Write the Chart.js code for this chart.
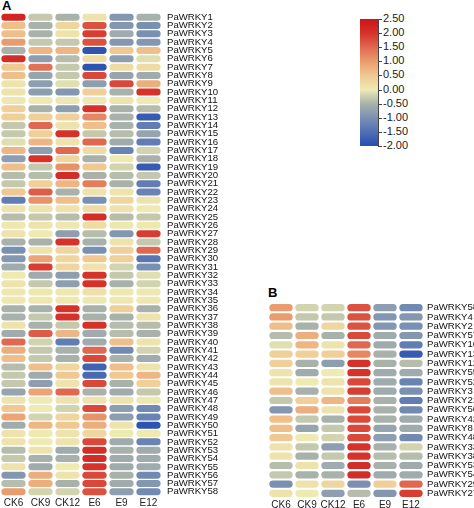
<!DOCTYPE html>
<html><head><meta charset="utf-8">
<script src="https://cdn.jsdelivr.net/npm/chart.js@4"></script>
<style>
body{margin:0;background:#fff;font-family:"Liberation Sans",Arial,sans-serif;}
#wrap{position:relative;width:474px;height:508px;overflow:hidden;}
canvas{position:absolute;}
.lbl{position:absolute;font-weight:bold;font-size:13px;color:#000;}
.ct{position:absolute;font-size:11px;color:#222;left:383px;}
.tk{position:absolute;left:378px;width:4px;height:1px;background:#444;}
</style></head><body>
<div id="wrap">
<div class="lbl" style="left:2px;top:-2px">A</div>
<div class="lbl" style="left:268px;top:285px">B</div>
<div id="cb" style="position:absolute;left:360px;top:19px;width:18px;height:127px;"></div>
<div style="position:absolute;left:378px;top:19px;width:1px;height:127px;background:#444"></div>
<canvas id="ca" style="left:0;top:0"></canvas>
<canvas id="cbB" style="left:268px;top:290px"></canvas>
</div>
<script>
const columns=["CK6","CK9","CK12","E6","E9","E12"];
const genesA=Array.from({length:58},(_,i)=>"PaWRKY"+(i+1));
const CK6=[2.2,0.6,0.6,1.0,-0.5,2.1,0.5,0.6,0.1,0.1,0.05,0.4,0.4,-0.3,-0.3,-0.1,0.7,-0.8,0.6,-0.4,-0.3,0.5,-1.3,0.1,-0.4,0.05,0.1,-0.5,-1.0,-0.9,-0.6,0,0.1,0.05,0.05,-0.5,-0.5,0.1,-0.6,1.5,0.8,0.6,-0.4,-0.3,-0.3,-0.7,0.1,0.5,0.9,-0.6,0.1,0.1,-0.4,-0.3,0.1,-0.9,-0.4,1.0];
const CK9=[-0.3,-0.5,-0.5,-0.3,0.7,-0.8,1.4,-0.7,-0.8,-0.8,0,-0.5,0.4,1.5,0.4,0.7,-0.8,2.0,-0.3,-0.4,0.4,1.6,1.1,0.1,-0.3,0.1,0,-0.5,0.1,0.9,1.9,-0.6,-0.3,0.05,0.05,-0.5,-0.3,-0.5,1.6,-0.2,-0.3,-0.3,0.6,-0.6,-0.8,0.9,0,0,-0.2,0.7,0,0,0.1,-0.5,-0.6,0.8,0.8,-0.2];
const CK12=[-0.5,0.3,0.1,-0.3,0.7,-0.4,-0.3,-0.3,-0.1,-0.9,0.05,-0.8,0.4,0.1,2.0,0.1,1.5,0.3,1.1,2.1,0.7,-0.5,0.6,0.1,-0.4,0.05,-0.8,2.0,0.3,0.3,0.3,-0.8,-0.8,0.05,0.05,2.0,2.0,-0.3,0.7,-1.3,-0.5,-0.5,0.3,0.5,0.1,1.5,0.1,-0.2,0.3,0.5,0.1,0.1,-0.6,-0.5,0,0.1,-0.5,-0.2];
const E6=[0.1,1.7,1.9,1.7,-1.9,0.2,-1.9,1.8,-0.8,0.4,0.05,2.0,1.2,0.6,-0.3,1.5,0.2,-0.5,0.5,-0.5,1.3,0.1,-1.0,0.2,2.1,0.2,-0.4,-0.5,-1.0,0.5,0.1,2.0,2.0,0.15,0.05,-0.5,-0.5,2.0,-0.6,-0.6,1.5,1.8,-1.7,-1.6,1.8,-0.5,0.1,1.8,1.1,0.8,0.3,1.8,2.1,2.1,2.0,1.8,1.8,1.7];
const E9=[-0.9,-0.9,-0.6,-0.9,0.5,-0.8,0.2,-0.7,1.8,-0.5,0.1,-0.5,-0.5,-0.5,-0.4,-0.6,-1.2,0,-0.2,-0.4,-0.5,0.1,0.3,0.1,-0.4,0.05,-0.9,0.1,0.4,0.4,-0.2,-0.3,-0.5,0.05,0.05,0.4,-0.5,-0.4,-0.4,0.6,-1.1,-0.5,0.6,0.5,-0.5,-0.6,0.1,-0.8,-0.8,0.1,0,-0.6,-0.5,-0.6,-0.6,-0.5,-0.6,-0.8];
const E12=[-0.5,-1.0,-1.0,-0.9,0.6,-0.1,0.2,-0.6,0.8,2.0,0,-0.4,-1.8,-1.3,-0.7,-1.3,-0.2,-0.5,-1.8,-0.3,-1.3,-1.2,0.1,0,-0.3,0.05,1.9,-0.3,1.5,-1.4,-1.0,-0.1,-0.2,0.05,0.05,-0.5,0.1,-0.4,-0.5,0.1,-0.2,-0.6,0.1,0.7,0.4,-0.3,0.05,-1.1,-1.2,-1.9,0,-1.2,-0.6,-0.6,-0.6,-1.1,-0.9,-1.1];
const genesB=["PaWRKY58","PaWRKY4","PaWRKY2","PaWRKY57","PaWRKY16","PaWRKY13","PaWRKY12","PaWRKY55","PaWRKY52","PaWRKY3","PaWRKY21","PaWRKY56","PaWRKY42","PaWRKY8","PaWRKY48","PaWRKY33","PaWRKY38","PaWRKY53","PaWRKY54","PaWRKY29","PaWRKY27"];
const cbTicks=[2.5,2.0,1.5,1.0,0.5,0.0,-0.5,-1.0,-1.5,-2.0];

const stops=[[-2,[38,76,176]],[-1.5,[80,112,180]],[-1,[122,144,178]],[-0.5,[168,178,170]],[0,[238,234,178]],[0.5,[240,200,146]],[1,[234,156,110]],[1.5,[224,104,80]],[2,[214,50,42]],[2.5,[204,20,24]]];
function col(v){
  if(v<=stops[0][0])return `rgb(${stops[0][1]})`;
  for(let i=1;i<stops.length;i++){if(v<=stops[i][0]){const a=stops[i-1],b=stops[i],t=(v-a[0])/(b[0]-a[0]);
    return `rgb(${a[1].map((c,k)=>Math.round(c+(b[1][k]-c)*t)).join(',')})`;}}
  return `rgb(${stops[stops.length-1][1]})`;
}
const cols=[CK6,CK9,CK12,E6,E9,E12];
document.getElementById('cb').style.background='linear-gradient(to bottom,'+stops.slice().reverse().map(s=>`rgb(${s[1]})`).join(',')+')';
const wrap=document.getElementById('wrap');
cbTicks.forEach((t,i)=>{const y=19+i*127/9;
  const d=document.createElement('div');d.className='ct';d.style.top=(y-7)+'px';d.textContent=t.toFixed(2);wrap.appendChild(d);
  const k=document.createElement('div');k.className='tk';k.style.top=y+'px';wrap.appendChild(k);});

function make(id,w,h,genes,padTop,axH,yW,barPct,fs,yPad){
  const idx=genes.map(g=>genesA.indexOf(g));
  const ds=cols.map((arr,c)=>({data:idx.map(i=>({x:[c-0.45,c+0.45],y:genesA[i]})),
    backgroundColor:idx.map(i=>col(arr[i])),borderRadius:20,borderSkipped:false,
    barPercentage:barPct,categoryPercentage:1,grouped:false}));
  const cv=document.getElementById(id);cv.width=w;cv.height=h;cv.style.width=w+'px';cv.style.height=h+'px';
  new Chart(cv,{type:'bar',data:{labels:genes,datasets:ds},
    options:{indexAxis:'y',responsive:false,animation:false,layout:{padding:{top:padTop,left:0,right:0,bottom:0}},
      plugins:{legend:{display:false},tooltip:{enabled:false}},
      scales:{x:{type:'linear',min:-0.5,max:5.5,grid:{display:false,drawTicks:false},border:{display:false},
          afterBuildTicks:s=>{s.ticks=columns.map((_,i)=>({value:i}));},
          ticks:{padding:1,color:'#222',font:{size:10,family:'Liberation Sans'},autoSkip:false,maxRotation:0,callback:v=>columns[v]},
          afterFit:s=>{s.height=axH;}},
        y:{type:'category',position:'right',grid:{display:false,drawTicks:false},border:{display:false},offset:true,
          ticks:{padding:yPad,color:'#111',font:{size:fs,family:'Liberation Sans'},autoSkip:false},
          afterFit:s=>{s.width=yW;}}}}});
}
make('ca',240,530,genesA,13,34,78,0.84,9.6,5);
make('cbB',240,240,genesB,13,32,84,0.78,9.6,3);
</script></body></html>
